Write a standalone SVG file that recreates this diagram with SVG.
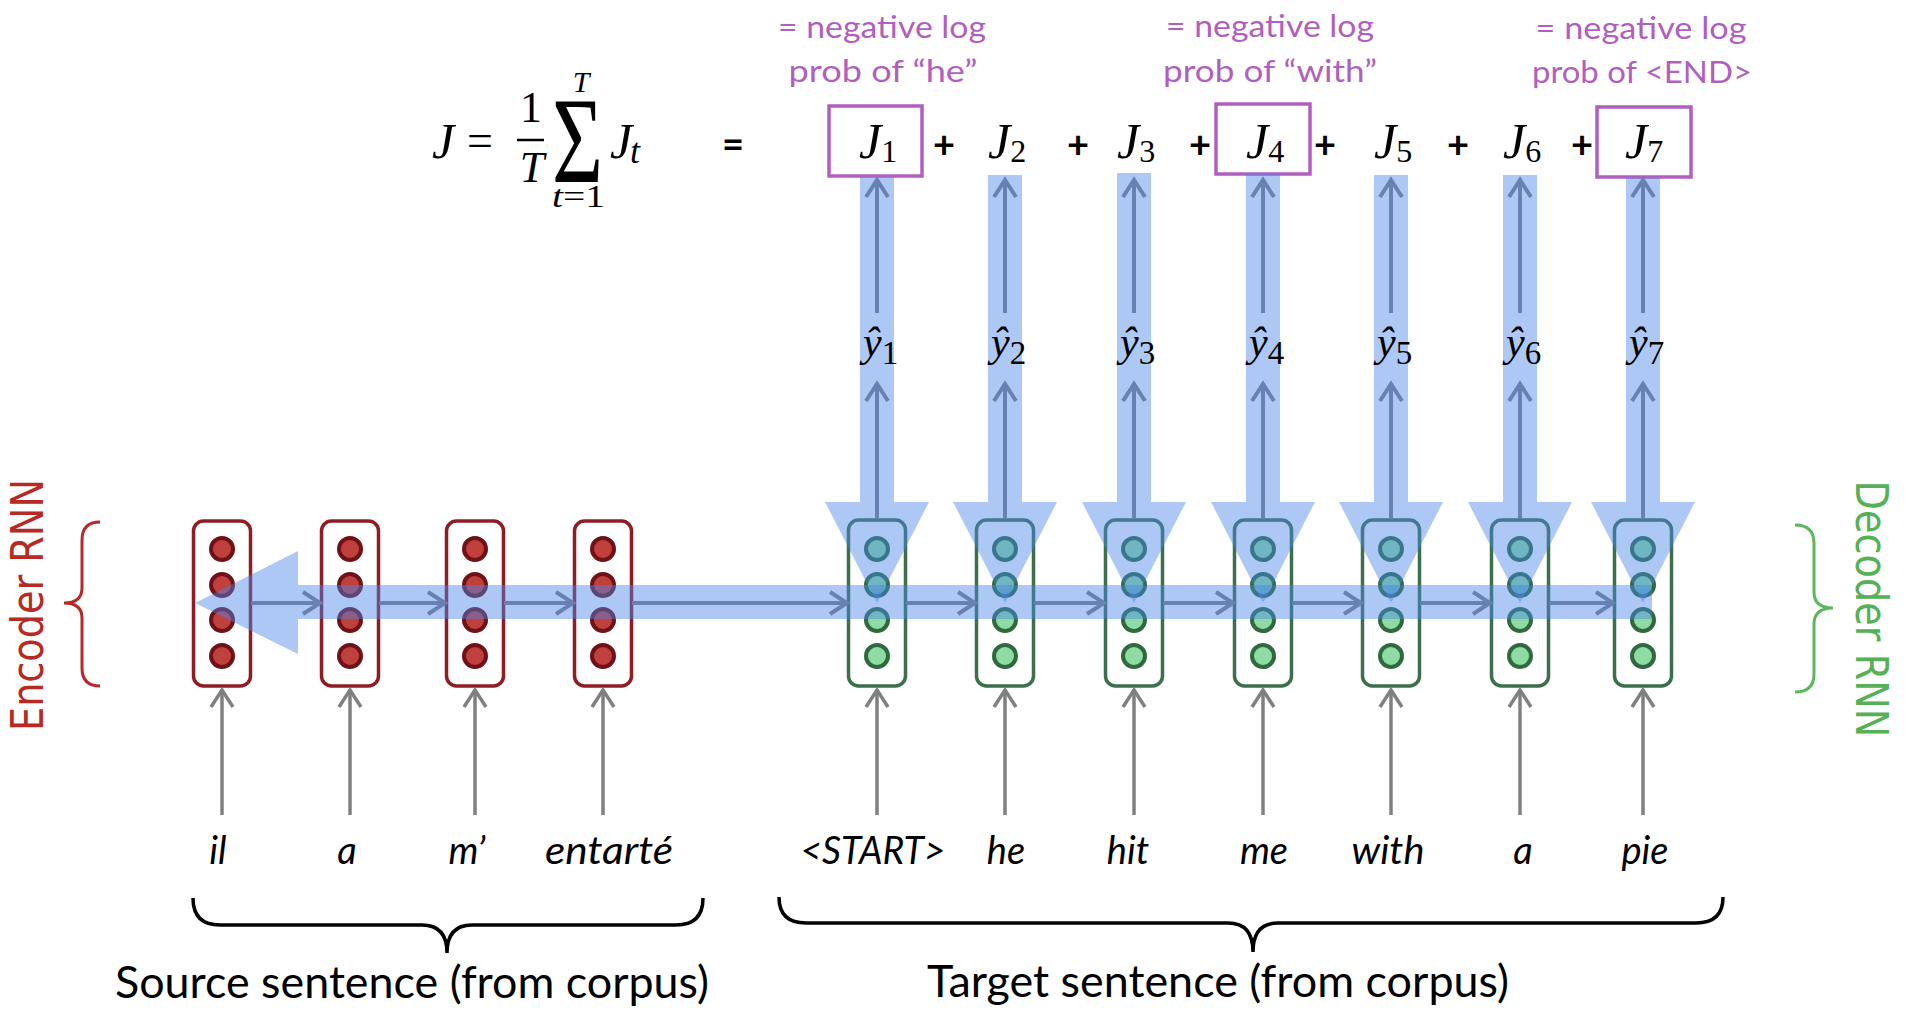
<svg xmlns="http://www.w3.org/2000/svg" width="1906" height="1026" viewBox="0 0 1906 1026">
<style>
.bg{fill:#ffffff}
.enc{fill:#ffffff;stroke:#901c24;stroke-width:3.5}
.encdot{fill:#c0403e;stroke:#6e1217;stroke-width:4}
.dec{fill:#ffffff;stroke:#3c6f4b;stroke-width:3.5}
.decdot{fill:#8edca3;stroke:#2f6a3f;stroke-width:4}
.blue{fill:#4a86e8;fill-opacity:0.45}
.flow{stroke:#6782b2;stroke-width:4;fill:none;marker-end:url(#chev)}
.inp{stroke:#808080;stroke-width:3.5;fill:none;marker-end:url(#chevg)}
.math{font-family:"Liberation Serif","DejaVu Serif",serif;fill:#000}
.it{font-style:italic}
.purple{font-family:Lato,"Liberation Sans",sans-serif;font-size:31px;fill:#b05fc0;text-anchor:middle}
.jbox{fill:none;stroke:#b05fc0;stroke-width:3.5}
.op{font-family:Lato,"Liberation Sans",sans-serif;font-weight:bold;font-size:38px;fill:#000;text-anchor:middle}
.word{font-family:Lato,"Liberation Sans",sans-serif;font-style:italic;font-size:38px;fill:#000;text-anchor:middle}
.caption{font-family:Lato,"Liberation Sans",sans-serif;font-size:44px;fill:#000;text-anchor:middle}
.brace{fill:none;stroke:#000;stroke-width:3.5}
.side{font-family:"DejaVu Sans",Verdana,sans-serif;font-size:44px;text-anchor:middle}
</style>
<defs>
<marker id="chev" viewBox="-22 -14 26 28" refX="0" refY="0" markerWidth="26" markerHeight="28" markerUnits="userSpaceOnUse" orient="auto">
<path d="M-17,-11 L0,0 L-17,11" fill="none" stroke="#6782b2" stroke-width="4"/>
</marker>
<marker id="chevg" viewBox="-22 -14 26 28" refX="0" refY="0" markerWidth="26" markerHeight="28" markerUnits="userSpaceOnUse" orient="auto">
<path d="M-17,-11 L0,0 L-17,11" fill="none" stroke="#808080" stroke-width="3.5"/>
</marker>
</defs>
<rect class="bg" x="0" y="0" width="1906" height="1026"/>

<!-- formula -->
<g id="formula">
<text class="math it" x="432" y="158" font-size="50">J</text>
<text class="math" x="480" y="156" font-size="46" text-anchor="middle">=</text>
<text class="math" x="531" y="122" font-size="44" text-anchor="middle">1</text>
<line x1="517" y1="140" x2="544" y2="140" stroke="#000" stroke-width="2.5"/>
<text class="math it" x="532" y="182" font-size="44" text-anchor="middle">T</text>
<text class="math" x="552" y="182" font-size="122" textLength="51" lengthAdjust="spacingAndGlyphs">Σ</text>
<text class="math it" x="581" y="92" font-size="30" text-anchor="middle">T</text>
<text class="math" x="552" y="207" font-size="31" textLength="53" lengthAdjust="spacingAndGlyphs"><tspan class="it">t</tspan>=1</text>
<text class="math it" x="610" y="158" font-size="50">J</text>
<text class="math it" x="630" y="163" font-size="36">t</text>
<text class="op" x="733" y="158" font-size="36">=</text>
</g>

<!-- loss terms -->
<g id="loss-terms">
<rect class="jbox" x="829" y="106" width="93" height="70"/>
<rect class="jbox" x="1216" y="104" width="94" height="70"/>
<rect class="jbox" x="1597" y="107" width="94" height="70"/>
<text class="math it" x="859" y="158" font-size="50">J<tspan font-style="normal" font-size="32" dy="4">1</tspan></text>
<text class="math it" x="988" y="158" font-size="50">J<tspan font-style="normal" font-size="32" dy="4">2</tspan></text>
<text class="math it" x="1117" y="158" font-size="50">J<tspan font-style="normal" font-size="32" dy="4">3</tspan></text>
<text class="math it" x="1246" y="158" font-size="50">J<tspan font-style="normal" font-size="32" dy="4">4</tspan></text>
<text class="math it" x="1374" y="158" font-size="50">J<tspan font-style="normal" font-size="32" dy="4">5</tspan></text>
<text class="math it" x="1503" y="158" font-size="50">J<tspan font-style="normal" font-size="32" dy="4">6</tspan></text>
<text class="math it" x="1625" y="158" font-size="50">J<tspan font-style="normal" font-size="32" dy="4">7</tspan></text>
<text class="op" x="944" y="158">+</text>
<text class="op" x="1078" y="158">+</text>
<text class="op" x="1200" y="158">+</text>
<text class="op" x="1325" y="158">+</text>
<text class="op" x="1458" y="158">+</text>
<text class="op" x="1582" y="158">+</text>
</g>

<g id="note-he">
<text class="purple" x="882" y="38" textLength="208" lengthAdjust="spacingAndGlyphs">= negative log</text>
<text class="purple" x="883" y="82" textLength="189" lengthAdjust="spacingAndGlyphs">prob of “he”</text>
</g>
<g id="note-with">
<text class="purple" x="1270" y="37" textLength="208" lengthAdjust="spacingAndGlyphs">= negative log</text>
<text class="purple" x="1270" y="82" textLength="214" lengthAdjust="spacingAndGlyphs">prob of “with”</text>
</g>
<g id="note-end">
<text class="purple" x="1641" y="39" textLength="211" lengthAdjust="spacingAndGlyphs">= negative log</text>
<text class="purple" x="1642" y="83" textLength="220" lengthAdjust="spacingAndGlyphs">prob of &lt;END&gt;</text>
</g>

<!-- encoder cells -->
<g id="enc1"><rect class="enc" x="193.5" y="521" width="57" height="165" rx="10"/><circle class="encdot" cx="222" cy="549" r="11"/><circle class="encdot" cx="222" cy="585" r="11"/><circle class="encdot" cx="222" cy="620" r="11"/><circle class="encdot" cx="222" cy="656" r="11"/></g>
<g id="enc2"><rect class="enc" x="321.5" y="521" width="57" height="165" rx="10"/><circle class="encdot" cx="350" cy="549" r="11"/><circle class="encdot" cx="350" cy="585" r="11"/><circle class="encdot" cx="350" cy="620" r="11"/><circle class="encdot" cx="350" cy="656" r="11"/></g>
<g id="enc3"><rect class="enc" x="446.5" y="521" width="57" height="165" rx="10"/><circle class="encdot" cx="475" cy="549" r="11"/><circle class="encdot" cx="475" cy="585" r="11"/><circle class="encdot" cx="475" cy="620" r="11"/><circle class="encdot" cx="475" cy="656" r="11"/></g>
<g id="enc4"><rect class="enc" x="574.5" y="521" width="57" height="165" rx="10"/><circle class="encdot" cx="603" cy="549" r="11"/><circle class="encdot" cx="603" cy="585" r="11"/><circle class="encdot" cx="603" cy="620" r="11"/><circle class="encdot" cx="603" cy="656" r="11"/></g>

<!-- decoder cells -->
<g id="dec1"><rect class="dec" x="848.5" y="520" width="57" height="166" rx="10"/><circle class="decdot" cx="877" cy="549" r="11"/><circle class="decdot" cx="877" cy="585" r="11"/><circle class="decdot" cx="877" cy="620" r="11"/><circle class="decdot" cx="877" cy="656" r="11"/></g>
<g id="dec2"><rect class="dec" x="976.5" y="520" width="57" height="166" rx="10"/><circle class="decdot" cx="1005" cy="549" r="11"/><circle class="decdot" cx="1005" cy="585" r="11"/><circle class="decdot" cx="1005" cy="620" r="11"/><circle class="decdot" cx="1005" cy="656" r="11"/></g>
<g id="dec3"><rect class="dec" x="1105.5" y="520" width="57" height="166" rx="10"/><circle class="decdot" cx="1134" cy="549" r="11"/><circle class="decdot" cx="1134" cy="585" r="11"/><circle class="decdot" cx="1134" cy="620" r="11"/><circle class="decdot" cx="1134" cy="656" r="11"/></g>
<g id="dec4"><rect class="dec" x="1234.5" y="520" width="57" height="166" rx="10"/><circle class="decdot" cx="1263" cy="549" r="11"/><circle class="decdot" cx="1263" cy="585" r="11"/><circle class="decdot" cx="1263" cy="620" r="11"/><circle class="decdot" cx="1263" cy="656" r="11"/></g>
<g id="dec5"><rect class="dec" x="1362.5" y="520" width="57" height="166" rx="10"/><circle class="decdot" cx="1391" cy="549" r="11"/><circle class="decdot" cx="1391" cy="585" r="11"/><circle class="decdot" cx="1391" cy="620" r="11"/><circle class="decdot" cx="1391" cy="656" r="11"/></g>
<g id="dec6"><rect class="dec" x="1491.5" y="520" width="57" height="166" rx="10"/><circle class="decdot" cx="1520" cy="549" r="11"/><circle class="decdot" cx="1520" cy="585" r="11"/><circle class="decdot" cx="1520" cy="620" r="11"/><circle class="decdot" cx="1520" cy="656" r="11"/></g>
<g id="dec7"><rect class="dec" x="1614.5" y="520" width="57" height="166" rx="10"/><circle class="decdot" cx="1643" cy="549" r="11"/><circle class="decdot" cx="1643" cy="585" r="11"/><circle class="decdot" cx="1643" cy="620" r="11"/><circle class="decdot" cx="1643" cy="656" r="11"/></g>

<!-- backprop overlay -->
<g id="gradient-flow">
<rect class="blue" x="298" y="585" width="1354" height="34"/>
<polygon class="blue" points="298,551 298,654 195,603"/>
<rect class="blue" x="860" y="177" width="34" height="325"/>
<rect class="blue" x="988" y="175" width="34" height="327"/>
<rect class="blue" x="1117" y="173" width="34" height="329"/>
<rect class="blue" x="1246" y="174" width="34" height="328"/>
<rect class="blue" x="1374" y="175" width="34" height="327"/>
<rect class="blue" x="1503" y="175" width="34" height="327"/>
<rect class="blue" x="1626" y="177" width="34" height="325"/>
<polygon class="blue" points="825,502 929,502 877,603"/>
<polygon class="blue" points="953,502 1057,502 1005,603"/>
<polygon class="blue" points="1082,502 1186,502 1134,603"/>
<polygon class="blue" points="1211,502 1315,502 1263,603"/>
<polygon class="blue" points="1339,502 1443,502 1391,603"/>
<polygon class="blue" points="1468,502 1572,502 1520,603"/>
<polygon class="blue" points="1591,502 1695,502 1643,603"/>
</g>

<!-- connectors -->
<g id="connectors">
<line class="flow" x1="251" y1="603" x2="320" y2="603"/>
<line class="flow" x1="379" y1="603" x2="445" y2="603"/>
<line class="flow" x1="504" y1="603" x2="573" y2="603"/>
<line class="flow" x1="632" y1="603" x2="847" y2="603"/>
<line class="flow" x1="906" y1="603" x2="975" y2="603"/>
<line class="flow" x1="1034" y1="603" x2="1104" y2="603"/>
<line class="flow" x1="1163" y1="603" x2="1233" y2="603"/>
<line class="flow" x1="1292" y1="603" x2="1361" y2="603"/>
<line class="flow" x1="1420" y1="603" x2="1490" y2="603"/>
<line class="flow" x1="1549" y1="603" x2="1613" y2="603"/>
<line class="flow" x1="877" y1="519" x2="877" y2="384"/>
<line class="flow" x1="1005" y1="519" x2="1005" y2="384"/>
<line class="flow" x1="1134" y1="519" x2="1134" y2="384"/>
<line class="flow" x1="1263" y1="519" x2="1263" y2="384"/>
<line class="flow" x1="1391" y1="519" x2="1391" y2="384"/>
<line class="flow" x1="1520" y1="519" x2="1520" y2="384"/>
<line class="flow" x1="1643" y1="519" x2="1643" y2="384"/>
<line class="flow" x1="877" y1="313" x2="877" y2="180"/>
<line class="flow" x1="1005" y1="313" x2="1005" y2="180"/>
<line class="flow" x1="1134" y1="313" x2="1134" y2="180"/>
<line class="flow" x1="1263" y1="313" x2="1263" y2="180"/>
<line class="flow" x1="1391" y1="313" x2="1391" y2="180"/>
<line class="flow" x1="1520" y1="313" x2="1520" y2="180"/>
<line class="flow" x1="1643" y1="313" x2="1643" y2="180"/>
<line class="inp" x1="222" y1="815" x2="222" y2="690"/>
<line class="inp" x1="350" y1="815" x2="350" y2="690"/>
<line class="inp" x1="475" y1="815" x2="475" y2="690"/>
<line class="inp" x1="603" y1="815" x2="603" y2="690"/>
<line class="inp" x1="877" y1="815" x2="877" y2="690"/>
<line class="inp" x1="1005" y1="815" x2="1005" y2="690"/>
<line class="inp" x1="1134" y1="815" x2="1134" y2="690"/>
<line class="inp" x1="1263" y1="815" x2="1263" y2="690"/>
<line class="inp" x1="1391" y1="815" x2="1391" y2="690"/>
<line class="inp" x1="1520" y1="815" x2="1520" y2="690"/>
<line class="inp" x1="1643" y1="815" x2="1643" y2="690"/>
</g>

<!-- predictions -->
<g id="predictions">
<text class="math it" x="863" y="356" font-size="42">ŷ<tspan font-style="normal" font-size="33" dy="8">1</tspan></text>
<text class="math it" x="991" y="356" font-size="42">ŷ<tspan font-style="normal" font-size="33" dy="8">2</tspan></text>
<text class="math it" x="1120" y="356" font-size="42">ŷ<tspan font-style="normal" font-size="33" dy="8">3</tspan></text>
<text class="math it" x="1249" y="356" font-size="42">ŷ<tspan font-style="normal" font-size="33" dy="8">4</tspan></text>
<text class="math it" x="1377" y="356" font-size="42">ŷ<tspan font-style="normal" font-size="33" dy="8">5</tspan></text>
<text class="math it" x="1506" y="356" font-size="42">ŷ<tspan font-style="normal" font-size="33" dy="8">6</tspan></text>
<text class="math it" x="1629" y="356" font-size="42">ŷ<tspan font-style="normal" font-size="33" dy="8">7</tspan></text>
</g>

<!-- input words -->
<g id="source-words">
<text class="word" x="218" y="864">il</text>
<text class="word" x="347" y="864">a</text>
<text class="word" x="467" y="864">m’</text>
<text class="word" x="609" y="864" textLength="128" lengthAdjust="spacingAndGlyphs">entarté</text>
</g>
<g id="target-words">
<text class="word" x="873" y="864" textLength="145" lengthAdjust="spacingAndGlyphs">&lt;START&gt;</text>
<text class="word" x="1006" y="864">he</text>
<text class="word" x="1128" y="864">hit</text>
<text class="word" x="1264" y="864">me</text>
<text class="word" x="1388" y="864" textLength="73" lengthAdjust="spacingAndGlyphs">with</text>
<text class="word" x="1523" y="864">a</text>
<text class="word" x="1645" y="864">pie</text>
</g>

<!-- side labels -->
<g id="encoder-label">
<path d="M100,522 Q82,522 82,540 L82,588 Q82,603 64,603 Q82,603 82,618 L82,668 Q82,686 100,686" fill="none" stroke="#b8282a" stroke-width="3"/>
<text class="side" transform="translate(43,605) rotate(-90)" fill="#b52a25" textLength="252" lengthAdjust="spacingAndGlyphs">Encoder RNN</text>
</g>
<g id="decoder-label">
<path d="M1795,525 Q1814,525 1814,543 L1814,592 Q1814,608 1833,608 Q1814,608 1814,624 L1814,674 Q1814,692 1795,692" fill="none" stroke="#5cb85c" stroke-width="3"/>
<text class="side" transform="translate(1856,609) rotate(90)" fill="#56b156" textLength="257" lengthAdjust="spacingAndGlyphs">Decoder RNN</text>
</g>

<!-- bottom braces -->
<g id="source-caption">
<path class="brace" d="M193,898 Q193,925 220,925 L422,925 Q447,925 447,953 Q447,925 472,925 L676,925 Q703,925 703,898"/>
<text class="caption" x="412" y="998" textLength="594" lengthAdjust="spacingAndGlyphs">Source sentence (from corpus)</text>
</g>
<g id="target-caption">
<path class="brace" d="M779,897 Q779,923 806,923 L1228,923 Q1253,923 1253,952 Q1253,923 1278,923 L1696,923 Q1723,923 1723,897"/>
<text class="caption" x="1218" y="997" textLength="582" lengthAdjust="spacingAndGlyphs">Target sentence (from corpus)</text>
</g>
</svg>
